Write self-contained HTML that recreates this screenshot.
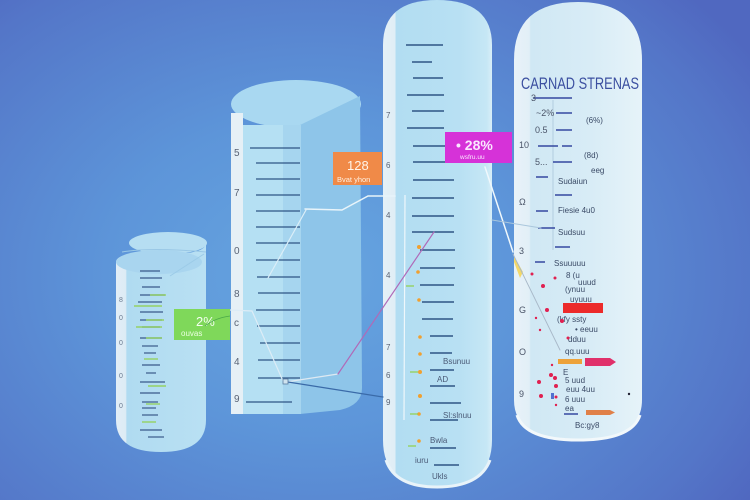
<!DOCTYPE html>
<html><head><meta charset="utf-8"><style>
html,body{margin:0;padding:0;width:750px;height:500px;overflow:hidden}
body{background:radial-gradient(ellipse 70% 80% at 42% 55%,#66a5e0 0%,#5d95d9 40%,#5476c8 85%,#5068c0 100%)}
svg{position:absolute;left:0;top:0}
text{font-family:"Liberation Sans Narrow","Liberation Sans",sans-serif}
</style></head><body>
<svg width="750" height="500" viewBox="0 0 750 500">
<defs>
<linearGradient id="tall" x1="0" x2="1" y1="0" y2="0">
<stop offset="0" stop-color="#e4f0f7"/><stop offset="0.11" stop-color="#e0eef6"/><stop offset="0.12" stop-color="#b2ddf2"/><stop offset="0.7" stop-color="#b8e0f3"/><stop offset="0.95" stop-color="#c6e7f5"/><stop offset="1" stop-color="#d8eef8"/>
</linearGradient>
<linearGradient id="rc" x1="0" x2="1" y1="0" y2="0">
<stop offset="0" stop-color="#e8f2f8"/><stop offset="0.12" stop-color="#e2eff7"/><stop offset="0.13" stop-color="#d0e8f4"/><stop offset="0.6" stop-color="#d8ecf6"/><stop offset="1" stop-color="#e6f3f9"/>
</linearGradient>
<linearGradient id="sc" x1="0" x2="1" y1="0" y2="0">
<stop offset="0" stop-color="#e2eef6"/><stop offset="0.11" stop-color="#dcebf5"/><stop offset="0.12" stop-color="#b0dbf1"/><stop offset="1" stop-color="#b9e0f3"/>
</linearGradient>
</defs>

<!-- small left cylinder -->
<ellipse cx="168" cy="243" rx="39" ry="11" fill="#b6def2"/>
<path d="M116 262 L116 420 Q116 452 161 452 Q206 452 206 420 L206 243 Q206 254 168 254 Q150 254 140 252 Q116 255 116 262 Z" fill="url(#sc)"/>
<ellipse cx="159" cy="262" rx="43" ry="12" fill="#a9d5ef"/>
<path d="M170 276 L204 254" stroke="#9ccbe8" stroke-width="1"/>
<path d="M122 252 Q150 247 206 252" stroke="#9ac8e6" stroke-width="1" fill="none"/>
<g stroke="#3a5a8a" stroke-width="1.2">
<line x1="140" y1="271" x2="160" y2="271"/><line x1="140" y1="278" x2="162" y2="278"/><line x1="142" y1="287" x2="160" y2="287"/>
<line x1="140" y1="295" x2="165" y2="295"/><line x1="138" y1="302" x2="162" y2="302"/><line x1="140" y1="312" x2="163" y2="312"/>
<line x1="140" y1="320" x2="162" y2="320"/><line x1="142" y1="327" x2="160" y2="327"/><line x1="140" y1="338" x2="162" y2="338"/>
<line x1="142" y1="346" x2="158" y2="346"/><line x1="144" y1="353" x2="156" y2="353"/><line x1="142" y1="365" x2="160" y2="365"/>
<line x1="146" y1="373" x2="156" y2="373"/><line x1="140" y1="382" x2="165" y2="382"/><line x1="140" y1="393" x2="160" y2="393"/>
<line x1="142" y1="402" x2="158" y2="402"/><line x1="142" y1="408" x2="156" y2="408"/><line x1="142" y1="415" x2="158" y2="415"/>
<line x1="140" y1="430" x2="162" y2="430"/><line x1="148" y1="437" x2="164" y2="437"/>
</g>
<g stroke="#8fd04a" stroke-width="1.2">
<line x1="150" y1="295" x2="166" y2="295"/><line x1="134" y1="306" x2="162" y2="306"/><line x1="146" y1="320" x2="164" y2="320"/>
<line x1="136" y1="327" x2="162" y2="327"/><line x1="146" y1="338" x2="162" y2="338"/><line x1="144" y1="359" x2="158" y2="359"/>
<line x1="148" y1="386" x2="166" y2="386"/><line x1="146" y1="404" x2="160" y2="404"/><line x1="142" y1="422" x2="156" y2="422"/>
</g>
<g fill="#6a7a90" font-size="7"><text x="119" y="302">8</text><text x="119" y="320">0</text><text x="119" y="345">0</text><text x="119" y="378">0</text><text x="119" y="408">0</text></g>

<!-- middle cylinder -->
<ellipse cx="296" cy="104" rx="65" ry="24" fill="#a9d8f1"/>
<path d="M300 125 L360 96 L362 388 Q362 405 340 410 L300 414 Z" fill="#8ec5e9"/>
<rect x="231" y="113" width="12" height="301" fill="#e6f0f6"/>
<rect x="243" y="125" width="40" height="289" fill="#b5e0f3"/>
<rect x="283" y="125" width="18" height="289" fill="#a6d5ef"/>
<g stroke="#2f5585" stroke-width="1.3">
<line x1="250" y1="148" x2="300" y2="148"/><line x1="256" y1="163" x2="300" y2="163"/><line x1="256" y1="179" x2="300" y2="179"/>
<line x1="256" y1="195" x2="300" y2="195"/><line x1="256" y1="211" x2="300" y2="211"/><line x1="256" y1="227" x2="300" y2="227"/>
<line x1="256" y1="243" x2="300" y2="243"/><line x1="256" y1="260" x2="300" y2="260"/><line x1="257" y1="277" x2="300" y2="277"/>
<line x1="258" y1="293" x2="300" y2="293"/><line x1="256" y1="310" x2="300" y2="310"/><line x1="257" y1="326" x2="300" y2="326"/>
<line x1="260" y1="343" x2="300" y2="343"/><line x1="258" y1="360" x2="300" y2="360"/><line x1="258" y1="378" x2="300" y2="378"/>
<line x1="246" y1="402" x2="292" y2="402"/>
</g>
<g fill="#5a6476" font-size="10"><text x="234" y="156">5</text><text x="234" y="196">7</text><text x="234" y="254">0</text><text x="234" y="297">8</text><text x="234" y="326">c</text><text x="234" y="365">4</text><text x="234" y="402">9</text></g>

<!-- tall cylinder -->
<path d="M383 45 Q383 0 437 0 Q492 0 492 45 L492 440 Q492 487 437 487 Q383 487 383 440 Z" fill="url(#tall)"/>
<path d="M386 460 Q395 487 437 487 Q480 487 490 460" stroke="#e8f3f9" stroke-width="3" fill="none"/>
<g stroke="#2f5585" stroke-width="1.4">
<line x1="406" y1="45" x2="443" y2="45"/><line x1="412" y1="62" x2="432" y2="62"/><line x1="413" y1="78" x2="443" y2="78"/>
<line x1="407" y1="95" x2="444" y2="95"/><line x1="412" y1="111" x2="444" y2="111"/><line x1="407" y1="128" x2="444" y2="128"/>
<line x1="413" y1="146" x2="448" y2="146"/><line x1="413" y1="162" x2="452" y2="162"/><line x1="413" y1="180" x2="454" y2="180"/>
<line x1="412" y1="198" x2="454" y2="198"/><line x1="412" y1="216" x2="454" y2="216"/><line x1="412" y1="232" x2="454" y2="232"/>
<line x1="420" y1="250" x2="455" y2="250"/><line x1="420" y1="268" x2="455" y2="268"/><line x1="420" y1="285" x2="454" y2="285"/>
<line x1="422" y1="302" x2="454" y2="302"/><line x1="422" y1="319" x2="453" y2="319"/><line x1="430" y1="336" x2="453" y2="336"/>
<line x1="430" y1="353" x2="452" y2="353"/><line x1="430" y1="370" x2="454" y2="370"/><line x1="430" y1="386" x2="455" y2="386"/>
<line x1="430" y1="403" x2="461" y2="403"/><line x1="430" y1="420" x2="458" y2="420"/><line x1="430" y1="448" x2="456" y2="448"/>
<line x1="434" y1="465" x2="459" y2="465"/>
</g>
<g fill="#5a6476" font-size="8"><text x="386" y="118">7</text><text x="386" y="168">6</text><text x="386" y="218">4</text><text x="386" y="278">4</text><text x="386" y="350">7</text><text x="386" y="378">6</text><text x="386" y="405">9</text></g>
<g fill="#f0a030"><circle cx="419" cy="247" r="2"/><circle cx="418" cy="272" r="1.8"/><circle cx="419" cy="300" r="1.8"/><circle cx="420" cy="337" r="1.8"/><circle cx="420" cy="354" r="1.8"/><circle cx="420" cy="372" r="2"/><circle cx="420" cy="396" r="2"/><circle cx="419" cy="414" r="1.8"/><circle cx="419" cy="441" r="1.8"/></g>
<g stroke="#8fd04a" stroke-width="1.2"><line x1="406" y1="286" x2="414" y2="286"/><line x1="410" y1="372" x2="418" y2="372"/><line x1="410" y1="414" x2="418" y2="414"/><line x1="408" y1="446" x2="416" y2="446"/></g>
<g fill="#4a5a76" font-size="8"><text x="443" y="364">Bsunuu</text><text x="437" y="382">AD</text><text x="443" y="418">Sl:slnuu</text><text x="430" y="443">Bwla</text><text x="415" y="463">iuru</text><text x="432" y="479">Ukls</text></g>
<line x1="405" y1="195" x2="404" y2="420" stroke="#eef7fb" stroke-width="1.2"/>

<!-- right cylinder -->
<path d="M514 60 Q514 2 578 2 Q642 2 642 60 L642 400 Q642 440 578 440 Q514 440 514 400 Z" fill="url(#rc)"/>
<path d="M517 415 Q525 440 578 440 Q632 440 640 415" stroke="#f2f8fb" stroke-width="3" fill="none"/>
<text x="521" y="89" font-size="17" fill="#3b4fa0" textLength="118" lengthAdjust="spacingAndGlyphs">CARNAD STRENAS</text>
<line x1="553" y1="100" x2="553" y2="250" stroke="#aac6da" stroke-width="0.8"/>
<g stroke="#3548a0" stroke-width="1.5">
<line x1="533" y1="98" x2="572" y2="98"/><line x1="556" y1="113" x2="572" y2="113"/><line x1="556" y1="130" x2="572" y2="130"/>
<line x1="538" y1="146" x2="558" y2="146"/><line x1="562" y1="146" x2="572" y2="146"/><line x1="553" y1="162" x2="572" y2="162"/>
<line x1="536" y1="177" x2="548" y2="177"/><line x1="555" y1="195" x2="572" y2="195"/><line x1="536" y1="211" x2="548" y2="211"/>
<line x1="538" y1="228" x2="555" y2="228"/><line x1="555" y1="247" x2="570" y2="247"/><line x1="535" y1="262" x2="545" y2="262"/>
<line x1="564" y1="414" x2="578" y2="414"/>
</g>
<g fill="#4a5468" font-size="9"><text x="531" y="101">3</text><text x="536" y="116">~2%</text><text x="535" y="133">0.5</text><text x="519" y="148">10</text><text x="535" y="165">5...</text><text x="519" y="205">Ω</text><text x="519" y="254">3</text><text x="519" y="313">G</text><text x="519" y="355">O</text><text x="519" y="397">9</text></g>
<g fill="#3a4a66" font-size="8"><text x="586" y="123">(6%)</text><text x="584" y="158">(8d)</text><text x="591" y="173">eeg</text><text x="558" y="184">Sudaiun</text><text x="558" y="213">Fiesie  4u0</text><text x="558" y="235">Sudsuu</text>
<text x="554" y="266">Ssuuuuu</text><text x="566" y="278">8 (u</text><text x="578" y="285">uuud</text><text x="565" y="292">(ynuu</text><text x="570" y="302">uyuuu</text><text x="557" y="322">(kfy  ssty</text><text x="575" y="332">&#8226; eeuu</text><text x="568" y="342">dduu</text><text x="565" y="354">qq.uuu</text><text x="563" y="375">E</text><text x="565" y="383">5 uud</text><text x="566" y="392">euu 4uu</text><text x="565" y="402">6 uuu</text><text x="565" y="411">ea</text><text x="575" y="428">Bc:gy8</text></g>
<rect x="563" y="303" width="40" height="10" fill="#ec2a2a"/>
<rect x="558" y="359" width="24" height="5" fill="#eda23a"/>
<path d="M585 358 L610 358 L616 362 L610 366 L585 366 Z" fill="#e0306a"/>
<path d="M586 410 L610 410 L615 412.5 L610 415 L586 415 Z" fill="#e08048"/>
<g fill="#e02050"><circle cx="532" cy="274" r="1.5"/><circle cx="543" cy="286" r="2"/><circle cx="555" cy="278" r="1.5"/><circle cx="547" cy="310" r="2"/><circle cx="536" cy="318" r="1.2"/><circle cx="540" cy="330" r="1.2"/><circle cx="568" cy="338" r="1.5"/><circle cx="562" cy="321" r="2"/><circle cx="552" cy="365" r="1.2"/><circle cx="551" cy="375" r="2"/><circle cx="555" cy="378" r="2"/><circle cx="539" cy="382" r="2"/><circle cx="556" cy="397" r="1.5"/><circle cx="541" cy="396" r="2"/><circle cx="556" cy="386" r="2"/><circle cx="556" cy="405" r="1.2"/></g>
<rect x="551" y="393" width="3" height="6" fill="#5070d0"/>
<circle cx="629" cy="394" r="1.2" fill="#223"/>
<path d="M514 256 L523 272 L520 278 L514 262 Z" fill="#f3d86a"/>

<!-- connectors -->
<g fill="none" stroke-linecap="round">
<polyline points="305,209 342,210 368,196 395,196" stroke="#e8f4fa" stroke-width="1.5"/>
<line x1="306" y1="210" x2="268" y2="278" stroke="#dbeef8" stroke-width="1.2"/>
<polyline points="230,310 252,311 283,381" stroke="#dcecf6" stroke-width="1.2"/>
<polyline points="286,382 338,374" stroke="#dde9f2" stroke-width="1.3"/>
<line x1="338" y1="374" x2="434" y2="232" stroke="#b06ab8" stroke-width="1.2"/>
<line x1="288" y1="382" x2="383" y2="397" stroke="#3a6aa8" stroke-width="1.2"/>
<line x1="485" y1="167" x2="513" y2="252" stroke="#f0f8fc" stroke-width="1.5"/>
<line x1="513" y1="254" x2="560" y2="350" stroke="#a8b8c8" stroke-width="0.9"/>
<line x1="492" y1="220" x2="541" y2="228" stroke="#a9c6dc" stroke-width="1"/>
</g>
<rect x="283" y="379" width="5" height="5" fill="#cfe3ef" stroke="#5a7da0" stroke-width="0.8"/>

<!-- labels -->
<rect x="174" y="309" width="56" height="31" fill="#7fd85a"/>
<text x="196" y="326" font-size="13" fill="#f4fff0">2%</text>
<text x="181" y="336" font-size="8" fill="#eaffe0">ouvas</text>
<path d="M205 326 Q215 318 230 316" stroke="#4aa84a" stroke-width="0.8" fill="none"/>
<rect x="333" y="152" width="49" height="33" fill="#f08a48"/>
<text x="347" y="170" font-size="13" fill="#fff4e8">128</text>
<text x="337" y="182" font-size="7.5" fill="#fff0e0">Bvat yhon</text>
<rect x="445" y="132" width="67" height="31" fill="#d632d8"/>
<text x="456" y="150" font-size="14" fill="#fbe8ff" font-weight="bold">&#8226; 28%</text>
<text x="460" y="159" font-size="6.5" fill="#fbe8ff">wsfru.uu</text>
</svg>
</body></html>
